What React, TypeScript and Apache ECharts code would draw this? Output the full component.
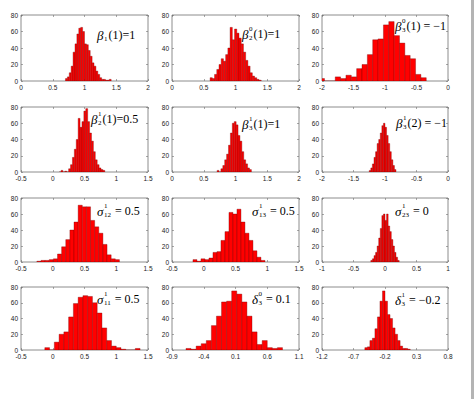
import React, { useEffect, useRef } from "react";
import * as echarts from "echarts";

// ---------- data ----------
const yTicks = [0, 20, 40, 60, 80];

const xTicks1 = [0, 0.5, 1, 1.5, 2];
const xTicks2 = [0, 0.5, 1, 1.5, 2];
const xTicks3 = [-2, -1.5, -1, -0.5, 0];
const xTicks4 = [-0.5, 0, 0.5, 1, 1.5];
const xTicks5 = [0, 0.5, 1, 1.5, 2];
const xTicks6 = [-2, -1.5, -1, -0.5, 0];
const xTicks7 = [-0.5, 0, 0.5, 1, 1.5];
const xTicks8 = [-0.5, 0, 0.5, 1, 1.5];
const xTicks9 = [-1, -0.5, 0, 0.5, 1];
const xTicks10 = [-0.5, 0, 0.5, 1, 1.5];
const xTicks11 = [-0.9, -0.4, 0.1, 0.6, 1.1];
const xTicks12 = [-1.2, -0.7, -0.2, 0.3, 0.8];

// bin start, bin width, counts
const bins1 = { start: 0.7, width: 0.03 };
const counts1 = [3, 5, 10, 18, 35, 45, 57, 64, 65, 60, 45, 44, 37, 30, 22, 18, 12, 8, 4, 2, 2, 1, 1, 2];
const bins2 = { start: 0.6, width: 0.035 };
const counts2 = [4, 3, 8, 14, 20, 27, 24, 32, 40, 65, 50, 63, 58, 52, 45, 35, 25, 18, 10, 6, 4, 2, 1];
const bins3 = { start: -2.045, width: 0.085 };
const counts3 = [3, 0, 0, 5, 3, 7, 5, 15, 20, 32, 50, 51, 68, 72, 55, 46, 31, 27, 8, 4];
const bins4 = { start: 0.1, width: 0.03 };
const counts4 = [0, 2, 0, 1, 0, 4, 9, 18, 28, 40, 66, 55, 62, 75, 78, 62, 48, 38, 25, 15, 9, 5, 3, 2];
const bins5 = { start: 0.71, width: 0.03 };
const counts5 = [2, 0, 4, 8, 15, 22, 33, 48, 60, 62, 58, 45, 38, 25, 15, 10, 5, 3];
const bins6 = { start: -1.25, width: 0.025 };
const counts6 = [2, 5, 10, 18, 25, 35, 40, 48, 57, 60, 55, 45, 35, 25, 15, 8, 3];
const bins7 = { start: -0.25, width: 0.065 };
const counts7 = [1, 2, 2, 3, 4, 10, 19, 28, 40, 50, 71, 69, 69, 52, 44, 36, 22, 9, 4, 3];
const bins8 = { start: -0.17, width: 0.063 };
const counts8 = [3, 1, 4, 3, 5, 12, 13, 27, 38, 62, 60, 66, 50, 36, 27, 14, 6, 2];
const bins9 = { start: -0.225, width: 0.025 };
const counts9 = [2, 4, 8, 12, 20, 30, 42, 58, 60, 52, 60, 45, 38, 28, 20, 12, 6, 2];
const bins10 = { start: -0.125, width: 0.075 };
const counts10 = [3, 0, 10, 20, 23, 42, 59, 67, 69, 68, 60, 47, 28, 12, 5, 3, 1, 0, 0, 2];
const bins11 = { start: -0.68, width: 0.08 };
const counts11 = [2, 1, 5, 8, 12, 31, 43, 61, 62, 75, 71, 61, 43, 23, 7, 12, 3, 2, 3];
const bins12 = { start: -0.52, width: 0.04 };
const counts12 = [3, 4, 12, 15, 27, 42, 62, 75, 62, 45, 40, 28, 20, 12, 5, 2, 2, 1];

// labels: symbol, superscript, subscript, rest
const labels = [
  { sym: "β", sup: "", sub: "1", rest: "(1)=1" },
  { sym: "β", sup: "0", sub: "2", rest: "(1)=1" },
  { sym: "β", sup: "0", sub: "3", rest: "(1) = −1" },
  { sym: "β", sup: "1", sub: "2", rest: "(1)=0.5" },
  { sym: "β", sup: "1", sub: "3", rest: "(1)=1" },
  { sym: "β", sup: "1", sub: "3", rest: "(2) = −1" },
  { sym: "σ", sup: "1", sub: "12", rest: " = 0.5" },
  { sym: "σ", sup: "1", sub: "13", rest: " = 0.5" },
  { sym: "σ", sup: "1", sub: "23", rest: " = 0" },
  { sym: "σ", sup: "1", sub: "11", rest: " = 0.5" },
  { sym: "δ", sup: "0", sub: "3", rest: " = 0.1" },
  { sym: "δ", sup: "1", sub: "3", rest: " = −0.2" },
];

const panels = [
  { ticks: xTicks1, bins: bins1, counts: counts1 },
  { ticks: xTicks2, bins: bins2, counts: counts2 },
  { ticks: xTicks3, bins: bins3, counts: counts3 },
  { ticks: xTicks4, bins: bins4, counts: counts4 },
  { ticks: xTicks5, bins: bins5, counts: counts5 },
  { ticks: xTicks6, bins: bins6, counts: counts6 },
  { ticks: xTicks7, bins: bins7, counts: counts7 },
  { ticks: xTicks8, bins: bins8, counts: counts8 },
  { ticks: xTicks9, bins: bins9, counts: counts9 },
  { ticks: xTicks10, bins: bins10, counts: counts10 },
  { ticks: xTicks11, bins: bins11, counts: counts11 },
  { ticks: xTicks12, bins: bins12, counts: counts12 },
];

// ---------- layout ----------
const W = 474;
const H = 399;
const colLeft = [21, 172, 322];
const colWidth = [127, 127, 126];
const rowTop = [15, 107, 198, 287];
const rowHeight = [66, 65, 64, 63];
const labelPos = [
  [97, 35], [242, 34], [395, 26],
  [91, 119], [242, 124], [396, 123],
  [97, 211], [252, 211], [395, 211],
  [97, 299], [252, 299], [395, 300],
];
const LABEL_SIZE = 12;
const SERIF = '"Liberation Serif", "Times New Roman", serif';

let measureCtx: CanvasRenderingContext2D | null = null;
function tw(text: string, size: number, style = "normal") {
  if (!measureCtx) measureCtx = document.createElement("canvas").getContext("2d");
  measureCtx!.font = `${style} ${size}px ${SERIF}`;
  return measureCtx!.measureText(text).width;
}

function mathLabel(l: any, x: number, y: number, size: number) {
  const children: any[] = [];
  let cx = 0;
  const mk = (text: string, px: number, py: number, fs: number, italic: boolean) => ({
    type: "text",
    x: px,
    y: py,
    style: {
      text,
      font: `${italic ? "italic " : ""}${fs}px ${SERIF}`,
      fill: "#000",
      textAlign: "left",
      textVerticalAlign: "middle",
    },
  });
  children.push(mk(l.sym, cx, 0, size + 1, true));
  cx += tw(l.sym, size + 1, "italic");
  const s2 = Math.round(size * 0.62);
  let w = 0;
  if (l.sup) {
    children.push(mk(l.sup, cx + 0.5, -size * 0.4, s2, false));
    w = Math.max(w, tw(l.sup, s2));
  }
  if (l.sub) {
    children.push(mk(l.sub, cx + 0.5, size * 0.33, s2, false));
    w = Math.max(w, tw(l.sub, s2));
  }
  cx += w + 1.5;
  children.push(mk(l.rest, cx, 0, size, false));
  return { type: "group", x, y, children };
}

function fmt(v: number) {
  return String(Math.round(v * 10) / 10);
}

export default function App() {
  const ref = useRef<HTMLDivElement>(null);
  useEffect(() => {
    if (!ref.current) return;
    const chart = echarts.init(ref.current, null, { renderer: "svg" });
    const grids: any[] = [];
    const xAxes: any[] = [];
    const yAxes: any[] = [];
    const series: any[] = [];
    const graphics: any[] = [];
    const axisColor = "#6e6e6e";
    const labelStyle = { fontSize: 6.5, color: "#222", fontFamily: '"Liberation Sans", Arial, sans-serif' };
    const tickStyle = { color: axisColor, width: 0.6 };

    panels.forEach((p, i) => {
      const r = Math.floor(i / 3);
      const c = i % 3;
      grids.push({
        left: colLeft[c],
        top: rowTop[r],
        width: colWidth[c],
        height: rowHeight[r],
        show: true,
        borderColor: axisColor,
        borderWidth: 0.8,
        backgroundColor: "#fff",
      });
      const xmin = p.ticks[0];
      const xmax = p.ticks[p.ticks.length - 1];
      xAxes.push({
        type: "value",
        gridIndex: i,
        min: xmin,
        max: xmax,
        position: "bottom",
        axisLine: { show: false, onZero: false },
        splitLine: { show: false },
        axisTick: { show: true, inside: true, length: 2, customValues: p.ticks, lineStyle: tickStyle },
        axisLabel: { show: true, margin: 3, customValues: p.ticks, formatter: fmt, ...labelStyle },
      });
      xAxes.push({
        type: "value",
        gridIndex: i,
        min: xmin,
        max: xmax,
        position: "top",
        axisLine: { show: false, onZero: false },
        splitLine: { show: false },
        axisTick: { show: true, inside: true, length: 2, customValues: p.ticks, lineStyle: tickStyle },
        axisLabel: { show: false },
      });
      yAxes.push({
        type: "value",
        gridIndex: i,
        min: yTicks[0],
        max: yTicks[yTicks.length - 1],
        interval: 20,
        position: "left",
        axisLine: { show: false, onZero: false },
        splitLine: { show: false },
        axisTick: { show: true, inside: true, length: 2, lineStyle: tickStyle },
        axisLabel: { show: true, margin: 3, formatter: (v: number) => String(v), ...labelStyle },
      });
      yAxes.push({
        type: "value",
        gridIndex: i,
        min: yTicks[0],
        max: yTicks[yTicks.length - 1],
        interval: 20,
        position: "right",
        axisLine: { show: false, onZero: false },
        splitLine: { show: false },
        axisTick: { show: true, inside: true, length: 2, lineStyle: tickStyle },
        axisLabel: { show: false },
      });
      const data = p.counts.map((n, k) => [
        p.bins.start + k * p.bins.width,
        p.bins.start + (k + 1) * p.bins.width,
        n,
      ]);
      series.push({
        type: "custom",
        xAxisIndex: 2 * i,
        yAxisIndex: 2 * i,
        clip: true,
        data,
        encode: { x: [0, 1], y: 2 },
        renderItem: (params: any, api: any) => {
          const a = api.coord([api.value(0), api.value(2)]);
          const b = api.coord([api.value(1), 0]);
          return {
            type: "rect",
            shape: { x: a[0], y: a[1], width: b[0] - a[0], height: b[1] - a[1] },
            style: { fill: "#ff0000", stroke: "#700000", lineWidth: 0.35 },
          };
        },
      });
      graphics.push(mathLabel(labels[i], labelPos[i][0], labelPos[i][1], LABEL_SIZE));
    });

    graphics.push({
      type: "rect",
      shape: { x: 471, y: 0, width: 3, height: H },
      style: { fill: "#b4b4b4" },
      z: 10,
    });

    chart.setOption({
      animation: false,
      backgroundColor: "#fff",
      grid: grids,
      xAxis: xAxes,
      yAxis: yAxes,
      series,
      graphic: graphics,
    });
    return () => chart.dispose();
  }, []);
  return (
    <div
      ref={ref}
      style={{ position: "absolute", left: 0, top: 0, width: W, height: H }}
    />
  );
}
